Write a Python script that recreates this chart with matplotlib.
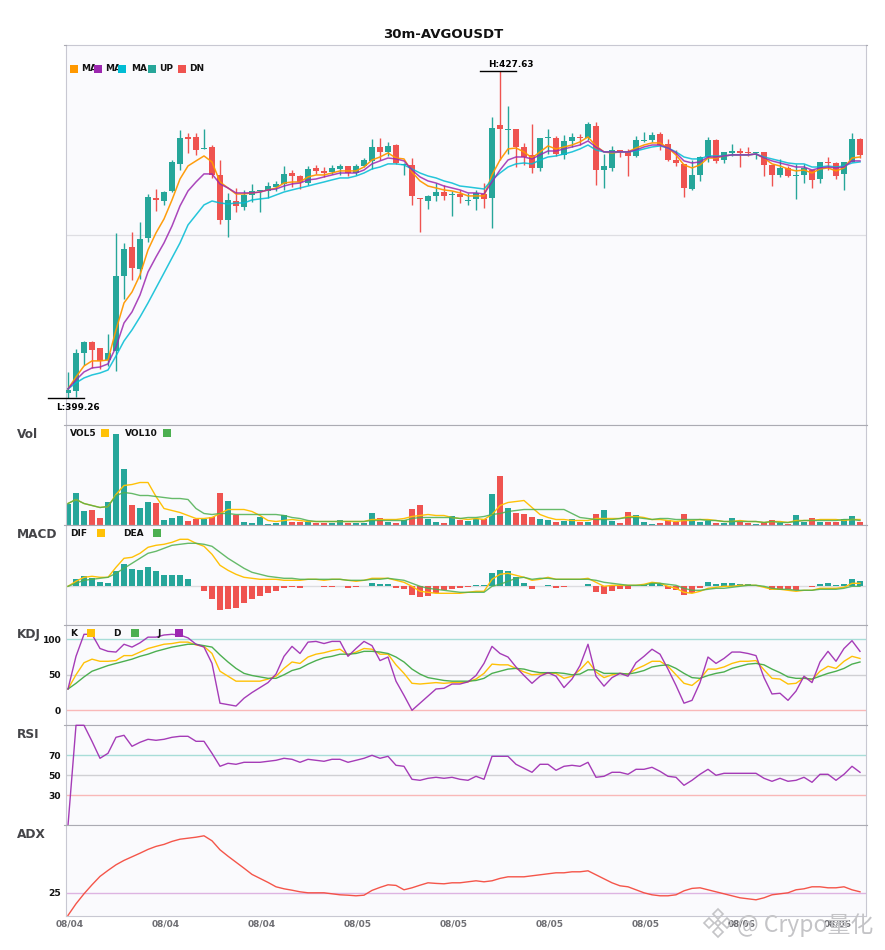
import numpy as np
import matplotlib
matplotlib.use('Agg')
import matplotlib.pyplot as plt
from matplotlib.lines import Line2D
from matplotlib.patches import Rectangle, Polygon

W, H = 885, 950

# candles
opens = [399.74,399.91,403.18,404.14,403.61,402.57,403.35,409.87,412.38,410.47,413.16,416.63,416.37,417.24,419.59,421.93,421.93,420.89,421.06,418.63,
         414.72,416.37,415.85,416.89,417.24,417.24,417.59,417.85,418.80,418.54,417.93,419.24,418.98,418.89,419.15,419.41,418.80,419.41,419.85,421.06,
         420.63,421.23,419.50,419.50,416.63,416.37,416.81,417.15,416.89,416.98,416.37,416.55,416.98,416.63,422.97,422.54,422.63,421.06,420.37,419.24,
         421.84,421.84,420.37,421.58,421.93,421.84,422.89,419.06,419.24,420.80,420.63,420.28,421.54,421.67,422.19,421.32,419.93,419.59,417.41,418.63,
         420.19,421.67,419.93,420.54,420.71,420.63,420.54,420.63,419.50,418.63,419.24,418.54,418.63,419.06,418.28,419.76,419.67,418.72,419.76,421.76]
highs = [401.53,403.53,404.22,404.22,403.61,404.83,413.60,412.73,413.69,414.55,416.98,417.41,417.24,419.93,422.54,422.27,422.27,422.63,421.23,419.93,
         417.07,417.50,417.33,417.85,417.33,418.02,418.11,419.41,419.06,418.63,419.41,419.50,419.32,419.50,419.59,419.41,419.59,420.10,421.76,421.84,
         421.50,421.32,419.67,420.10,416.63,416.89,417.93,417.76,417.24,417.33,417.07,417.33,417.93,423.67,427.63,424.62,422.63,421.41,423.06,421.84,
         422.63,422.02,422.10,422.27,422.19,423.23,423.23,420.45,421.15,420.80,420.89,422.02,422.36,422.36,422.36,421.76,420.80,419.59,419.93,420.28,
         421.93,421.76,420.63,421.32,420.97,421.06,420.63,420.63,419.50,420.02,419.41,419.59,419.59,419.06,419.76,420.19,419.76,419.76,422.27,421.84]
lows = [399.26,399.40,402.14,401.88,401.79,402.05,401.61,407.87,409.52,409.60,412.82,415.50,416.03,417.15,419.06,420.54,420.37,420.89,418.37,414.37,
        413.25,415.42,415.59,416.29,415.42,416.63,417.24,417.33,417.59,417.41,417.76,418.72,418.46,418.72,418.63,418.54,418.63,419.32,419.15,419.93,
        420.28,419.59,418.63,416.03,413.69,415.68,416.37,416.46,415.07,416.20,416.03,415.59,415.77,414.03,419.93,420.45,419.32,419.50,418.80,418.98,
        420.45,420.28,420.02,421.06,421.23,421.67,417.76,417.50,418.98,420.19,418.54,420.19,421.50,421.50,420.80,419.85,419.41,416.72,417.33,418.11,
        419.76,419.67,419.67,420.28,419.32,420.28,420.02,418.54,417.67,418.46,418.46,416.55,417.93,417.50,417.93,419.06,418.28,417.33,419.76,420.10]
closes = [399.97,403.18,404.14,403.44,402.48,403.18,409.87,412.21,410.56,413.07,416.72,416.46,417.15,419.76,421.84,421.76,420.80,420.97,418.63,414.72,
          416.46,415.94,416.89,417.24,417.33,417.67,417.85,418.72,418.54,418.02,419.15,418.98,418.80,419.24,419.41,418.80,419.41,419.93,421.06,420.63,
          421.15,419.67,419.59,416.81,416.55,416.81,417.15,416.81,416.98,416.72,416.46,417.07,416.55,422.71,422.63,422.63,421.06,420.19,419.24,421.84,
          421.93,420.45,421.58,421.93,421.84,423.06,419.06,419.41,420.80,420.63,420.28,421.67,421.58,422.10,421.23,419.93,419.67,417.50,418.63,420.19,
          421.67,419.85,420.63,420.71,420.54,420.54,420.63,419.50,418.63,419.24,418.54,418.63,419.24,418.20,419.76,419.67,418.54,419.76,421.76,420.37]

ma_fast = [400.06,401.10,402.05,402.49,402.49,402.57,405.18,407.52,408.47,409.95,412.12,413.60,414.81,416.46,418.28,419.41,419.85,420.28,419.76,418.02,
           417.50,416.98,416.98,417.07,417.15,417.33,417.50,417.93,418.02,418.02,418.46,418.63,418.63,418.80,418.98,418.98,418.98,419.32,419.93,420.19,
           420.54,420.10,420.02,418.89,418.11,417.67,417.50,417.33,417.24,417.07,416.81,416.81,416.81,418.63,419.93,420.89,420.97,420.63,420.10,420.63,
           421.15,420.89,421.06,421.23,421.50,421.93,421.15,420.63,420.54,420.63,420.63,420.97,421.23,421.41,421.41,420.97,420.37,419.50,419.24,419.50,
           420.10,420.10,420.28,420.37,420.37,420.37,420.45,420.10,419.59,419.41,419.15,418.98,419.06,418.80,419.15,419.24,418.98,419.24,420.10,420.19]
ma_mid = [400.06,400.84,401.53,401.88,401.96,402.23,403.70,405.78,406.74,408.21,410.21,411.51,412.73,414.20,415.94,417.24,418.02,418.72,418.72,417.85,
          417.50,417.07,417.07,417.07,417.15,417.33,417.41,417.67,417.85,417.93,418.20,418.28,418.46,418.63,418.80,418.80,418.80,419.06,419.59,419.85,
          420.10,420.02,419.85,419.06,418.46,418.11,417.93,417.67,417.50,417.33,417.07,417.07,416.98,418.02,419.06,419.93,420.19,420.19,420.02,420.37,
          420.71,420.71,420.89,421.06,421.23,421.58,421.06,420.63,420.63,420.63,420.63,420.80,421.06,421.23,421.23,420.97,420.54,419.85,419.67,419.76,
          420.19,420.19,420.28,420.37,420.37,420.37,420.45,420.10,419.85,419.67,419.50,419.32,419.32,419.06,419.24,419.32,419.24,419.32,419.85,419.85]
ma_slow = [400.06,400.58,401.01,401.27,401.44,401.70,402.92,404.22,405.18,406.30,407.52,408.82,410.12,411.43,412.73,414.29,415.16,416.03,416.37,416.20,
           416.11,416.20,416.20,416.46,416.55,416.63,416.89,417.15,417.33,417.50,417.67,417.85,418.02,418.20,418.37,418.37,418.54,418.80,419.15,419.32,
           419.59,419.59,419.50,419.15,418.80,418.54,418.37,418.11,417.93,417.67,417.59,417.50,417.41,418.20,418.80,419.32,419.59,419.67,419.59,419.93,
           420.19,420.28,420.45,420.63,420.89,421.23,420.80,420.63,420.63,420.63,420.63,420.71,420.89,421.06,421.15,420.97,420.63,420.19,420.02,420.02,
           420.28,420.28,420.28,420.37,420.37,420.37,420.45,420.19,420.02,419.85,419.67,419.59,419.59,419.32,419.32,419.41,419.32,419.41,419.67,419.76]

# no scale is shown on the Vol and MACD panels, so these are in panel units
volume = [21,32,14,15,7,23,91,56,20,17,23,22,5,7,9,4,6,6,8,32,24,10,3,2,8,1,2,10,3,3,
          3,2,2,1.5,5,2,2,2,12,7,3,2,5,16,20,6,3,2,9,5,4,6,6,31,49,17,12,11,8,6,5,3,4,6,3,3,
          11,15,4,2,13,10,3,1,2,5,3,11,4,3,4,2,2,7,3,2,1,2,5,2,1,10,3,7,3,3,3,6,9,3]
vol5 = [21,25,21,19,17,18,30,39,40,42,42,28,16,14,12,9,6,6,7,11,15,15,15,13,9,4,3,4,5,4,
        3,3,3,3,3,3,3,3,5,5,5,5,6,8,9,10,9,9,7,6,5,6,5,10,19,22,23,24,17,10,7,5,5,4,4,4,
        6,6,6,6,8,8,7,5,5,4,3,4,4,5,5,4,3,3,4,3,3,2,3,3,2,4,4,4,5,5,5,4,5,5]
vol10 = [21,25,21,19,17,18,29,32,31,29,29,28,27,26,26,25,16,11,10,11,11,10,10,10,10,10,10,9,7,6,
         4,3,3,3,3,3,3,3,4,4,4,4,4,6,7,7,7,7,7,6,7,7,8,10,11,13,14,15,15,15,15,15,15,11,7,6,
         5,5,5,6,7,7,6,5,6,6,5,5,5,5,4,4,3,3,3,3,3,2,3,2,2,3,4,4,4,4,4,5,5,4]

macd_hist = [0,7,10,8,4,3,15,22,17,16,19,15,11,11,11,7,0,-5,-13,-24,-23,-22,-17,-13,-10,-7,-5,-2,-1,-2,
             0,0,-1,-1,0,-2,-1,0,3,2,2,-1.5,-3,-9,-11,-10,-7,-4,-3,-2,-1,1,1,13,16,15,9,3,-3,0,1,-2,-1,0,0,2,
             -6,-8,-5,-3,-3,0,1,3,2,-3,-4,-9,-7,-2,4,2,3,3,2,2,0,0,-4,-3,-3,-4,0,-1,2,3,1,2,7,5]
dif = [0,5,9,10,9,9,19,28,29,33,39,41,42,44,47,47,43,40,32,21,16,12,9,8,7,7,7,6,6,6,
       7,7,6,7,7,6,5,6,8,8,8,6,4,0,-5,-6,-7,-7,-7,-7,-6,-5,-5,7,12,13,11,9,6,7,9,7,7,7,7,8,
       4,0,1,1,1,1,2,4,3,0,-2,-6,-7,-5,-2,-1,0,0,1,1,1,-1,-3,-3,-4,-5,-4,-4,-2,-2,-2,-1,3,3]
dea = [0,3,6,7,8,9,13,18,23,28,33,35,38,41,42,43,43,42,40,34,28,23,18,14,12,10,9,8,8,7,
       7,7,7,7,7,6,6,6,7,7,8,7,6,3,0,-2,-3,-4,-5,-6,-6,-6,-6,0,2,5,8,9,7,8,8,7,7,7,7,7,
       6,4,3,2,1,1,1,3,3,2,1,-2,-4,-4,-3,-2,-2,-1,0,1,1,0,-2,-3,-3,-4,-4,-4,-3,-3,-3,-2,0,0]

kdj_k = [30,50,67,72,69,69,70,77,77,82,87,90,93,94,96,96,92,90,80,55,48,41,41,41,41,44,48,59,68,66,
         75,79,81,84,86,78,82,87,86,79,79,64,52,38,37,38,39,38,39,39,40,44,52,65,64,64,59,54,50,51,52,52,45,48,57,69,
         54,46,50,52,51,58,63,69,69,62,50,38,35,44,58,58,61,66,69,69,70,57,45,44,37,38,46,43,55,62,59,69,76,73]
kdj_d = [30,38,47,55,59,63,66,69,72,76,79,83,86,89,91,93,93,91,89,78,68,59,52,49,47,45,45,50,56,59,
         65,70,74,76,79,79,80,83,83,82,80,75,68,58,51,46,44,42,41,41,41,42,45,52,55,58,59,58,55,53,53,53,52,50,51,57,
         57,52,52,52,51,53,56,61,63,64,59,52,46,45,49,52,54,59,62,65,66,64,58,53,47,45,45,44,48,52,55,59,65,68]
kdj_j = [30,76,107,107,87,83,82,93,89,95,103,103,106,107,106,102,93,89,66,10,8,6,17,25,32,39,51,76,90,80,
         96,97,94,97,97,76,87,97,91,70,75,41,21,0,10,20,30,31,37,37,40,49,66,90,80,75,61,49,38,48,53,48,32,44,63,93,
         48,34,46,52,48,67,76,86,79,58,35,10,14,39,75,66,73,82,82,80,77,46,23,24,14,27,48,39,68,83,69,87,98,83]

rsi = [0,100,100,84,67,72,88,90,79,83,86,85,86,88,89,89,84,84,72,59,62,61,63,63,63,64,65,67,66,63,
       66,65,64,66,66,63,65,67,70,67,69,60,59,46,45,47,48,47,48,46,45,49,46,69,69,69,61,57,53,61,61,55,59,60,59,63,
       48,49,53,53,51,56,56,58,54,49,48,40,45,51,56,50,52,52,52,52,52,47,44,47,44,45,48,43,51,51,45,51,59,53]

adx = [13.7,19.5,24.5,29,33.2,36.2,39,41.2,43,44.8,46.7,48.2,49.2,50.7,51.8,52.3,52.8,53.5,51,46.5,43.3,40.3,37.3,34.2,32.2,30.2,28,27,26.3,25.5,
       25,25,25,24.5,24,23.8,23.5,23.8,26.2,27.7,29,28.7,26.5,27.5,28.8,30,29.7,
       29.5,30,30,30.5,31,30.5,31,32.2,33,33,33,33.5,34,34.5,35,35,35.5,35.5,36,34,32,30,28.5,28,26.5,25,24,23.5,23.5,24,26,27.2,27.5,26.5,25.5,24.5,23.5,22.5,22,21.5,22.5,24,24.5,25,26.5,27,28,28,27.5,27.5,28,26.5,25.5]

date_ticks = [0, 12, 24, 36, 48, 60, 72, 84, 96]
date_labels = ['08/04', '08/04', '08/04', '08/05', '08/05', '08/05', '08/05', '08/06', '08/06']

UP = '#26A69A'
DN = '#EF5350'
ORANGE = '#FF9800'
PURPLE = '#9C27B0'
CYAN = '#00BCD4'
YELLOW = '#FFC107'
GREEN = '#4CAF50'
BG = '#FAFAFD'
BORDER = '#C8C8D2'
SEP = '#ABABB3'

plt.rcParams['font.family'] = ['DejaVu Sans']

fig = plt.figure(figsize=(W / 100, H / 100), dpi=100)


def fx(px):
    return px / W


def fy(py):
    return 1 - py / H


def panel(top, bottom, ylim):
    ax = fig.add_axes([fx(65.5), fy(bottom), 800 / W, (bottom - top) / H])
    ax.set_facecolor(BG)
    ax.set_xlim(-0.3125, 99.6875)
    ax.set_ylim(*ylim)
    ax.set_xticks([])
    ax.set_yticks([])
    for side in ['left', 'right', 'bottom']:
        ax.spines[side].set_color(BORDER)
    ax.spines['top'].set_color(SEP)
    ax.tick_params(length=0, pad=3, labelsize=6.6, labelcolor='#111111')
    # tiny marks where the panel edges meet
    for a, b in [(64, 65.5), (865.5, 867)]:
        fig.add_artist(Line2D([fx(a), fx(b)], [fy(top), fy(top)], transform=fig.transFigure, color=SEP, lw=0.8))
    return ax


def yticks(ax, ticks):
    ax.set_yticks(ticks)
    for t in ax.get_yticklabels():
        t.set_fontweight('bold')


def legend_items(py, items):
    # text first, the squares are drawn over it like in the original
    for px, txt in items['text']:
        fig.text(fx(px), fy(py), txt, fontsize=6.5, fontweight='bold', color='#111111', va='center', ha='left', zorder=5)
    for px, col in items['box']:
        fig.add_artist(Rectangle((fx(px), fy(py + 4)), 8 / W, 8 / H, transform=fig.transFigure, color=col, lw=0, zorder=6))


def side_label(py, txt):
    fig.text(fx(17), fy(py), txt, fontsize=8.7, fontweight='bold', color='#444448', va='center', ha='left')


x = np.arange(len(closes))
o = np.array(opens)
h = np.array(highs)
l = np.array(lows)
c = np.array(closes)
colors = [UP if c[i] >= o[i] else DN for i in x]

# main candle panel
ax0 = panel(45, 424.5, (396.97, 429.91))
ax0.axhline(413.42, color='#DEDEE3', lw=0.9, zorder=1)
ax0.vlines(x, l, h, colors=colors, lw=1.0, zorder=2)
ax0.bar(x, np.maximum(np.abs(c - o), 0.09), bottom=np.minimum(o, c), width=0.75, color=colors, lw=0, zorder=3)
ax0.plot(x, ma_fast, color=ORANGE, lw=1.1, alpha=0.95, zorder=4)
ax0.plot(x, ma_mid, color=PURPLE, lw=1.1, alpha=0.85, zorder=5)
ax0.plot(x, ma_slow, color=CYAN, lw=1.1, alpha=0.85, zorder=4)

hi = int(np.argmax(h))
lo = int(np.argmin(l))
ax0.plot([hi - 2.5, hi + 2], [h[hi], h[hi]], color='black', lw=1.0, zorder=6)
ax0.plot([lo - 2.5, lo + 2], [l[lo], l[lo]], color='black', lw=1.0, clip_on=False, zorder=6)
ax0.annotate(f'H:{h[hi]:.2f}', (hi, h[hi]), xytext=(-12, 2), textcoords='offset pixels',
             fontsize=6.4, fontweight='bold', color='black', ha='left', va='bottom')
ax0.annotate(f'L:{l[lo]:.2f}', (lo, l[lo]), xytext=(-12, -4.5), textcoords='offset pixels',
             fontsize=6.4, fontweight='bold', color='black', ha='left', va='top', annotation_clip=False)
fig.text(fx(443.5), fy(34), '30m-AVGOUSDT', fontsize=9.5, fontweight='bold', color='#111111', ha='center', va='center')
ax0.spines['top'].set_color(BORDER)

legend_items(68.7, {
    'text': [(81, 'MA'), (105, 'MA'), (131, 'MA'), (159, 'UP'), (189, 'DN')],
    'box': [(70, ORANGE), (94, PURPLE), (118, CYAN), (148, UP), (178, DN)],
})

# volume
ax1 = panel(424.5, 524.5, (0, 100))
ax1.bar(x, volume, width=0.75, color=colors, lw=0, zorder=2)
ax1.plot(x, vol5, color=YELLOW, lw=1.0, zorder=3)
ax1.plot(x, vol10, color=GREEN, lw=1.0, alpha=0.85, zorder=3)
side_label(434.7, 'Vol')
legend_items(433, {'text': [(70, 'VOL5'), (125, 'VOL10')], 'box': [(101, YELLOW), (163, GREEN)]})

# macd
ax2 = panel(524.5, 624.5, (-38.2, 61.8))
ax2.axhline(0, color='#DCDCE0', lw=1.0, zorder=1)
hist_colors = [UP if v >= 0 else DN for v in macd_hist]
ax2.bar(x, macd_hist, width=0.75, color=hist_colors, lw=0, zorder=2)
ax2.plot(x, dif, color=YELLOW, lw=1.0, zorder=3)
ax2.plot(x, dea, color=GREEN, lw=1.0, alpha=0.85, zorder=3)
side_label(535, 'MACD')
legend_items(533, {'text': [(70, 'DIF'), (123, 'DEA')], 'box': [(97, YELLOW), (153, GREEN)]})

# kdj
ax3 = panel(624.5, 724.5, (-20, 120.8))
ax3.axhline(100, color='#A8DDD8', lw=1.0, zorder=1)
ax3.axhline(50, color='#D0D0D4', lw=1.0, zorder=1)
ax3.axhline(0, color='#F9B8B8', lw=1.0, zorder=1)
ax3.plot(x, kdj_k, color=YELLOW, lw=1.0, zorder=3)
ax3.plot(x, kdj_d, color=GREEN, lw=1.0, zorder=3)
ax3.plot(x, kdj_j, color=PURPLE, lw=1.0, alpha=0.9, zorder=4)
yticks(ax3, [0, 50, 100])
side_label(634.7, 'KDJ')
legend_items(633, {'text': [(70, 'K'), (113, 'D'), (157, 'J')], 'box': [(87, YELLOW), (131, GREEN), (175, PURPLE)]})

# rsi
ax4 = panel(724.5, 824.5, (0.8, 100.8))
ax4.axhline(70, color='#A8DDD8', lw=1.0, zorder=1)
ax4.axhline(50, color='#D0D0D4', lw=1.0, zorder=1)
ax4.axhline(30, color='#F9B8B8', lw=1.0, zorder=1)
ax4.plot(x, rsi, color=PURPLE, lw=1.0, alpha=0.9, zorder=3, clip_on=False)
yticks(ax4, [30, 50, 70])
side_label(735, 'RSI')

# adx
ax5 = panel(824.5, 915.5, (13.65, 59.15))
ax5.axhline(25, color='#DDB4E2', lw=1.0, zorder=1)
ax5.plot(x, adx, color='#F44336', lw=1.0, alpha=0.9, zorder=3)
yticks(ax5, [25])
side_label(835, 'ADX')
ax5.set_xticks([t + 0.25 for t in date_ticks])
ax5.set_xticklabels(date_labels, fontsize=6.5, fontweight='bold', color='#6E6E73')
ax5.tick_params(axis='x', length=0, pad=3)

# watermark
wm = '#C4C4C7'
fig.text(fx(737), fy(925), '@ Crypo量化', fontsize=16.5, color=wm, va='center', ha='left',
         family=['Noto Sans CJK SC', 'DejaVu Sans'], zorder=8)
cx, cy = 718, 923
for dx, dy, r in [(0, -9, 5), (-9, 0, 5), (9, 0, 5), (0, 9, 5), (0, 0, 3)]:
    pts = [(fx(cx + dx), fy(cy + dy - r)), (fx(cx + dx + r), fy(cy + dy)),
           (fx(cx + dx), fy(cy + dy + r)), (fx(cx + dx - r), fy(cy + dy))]
    fig.add_artist(Polygon(pts, closed=True, transform=fig.transFigure, facecolor='none',
                           edgecolor=wm, lw=1.2, zorder=8))

fig.savefig('out.png', dpi=100, facecolor='white')
